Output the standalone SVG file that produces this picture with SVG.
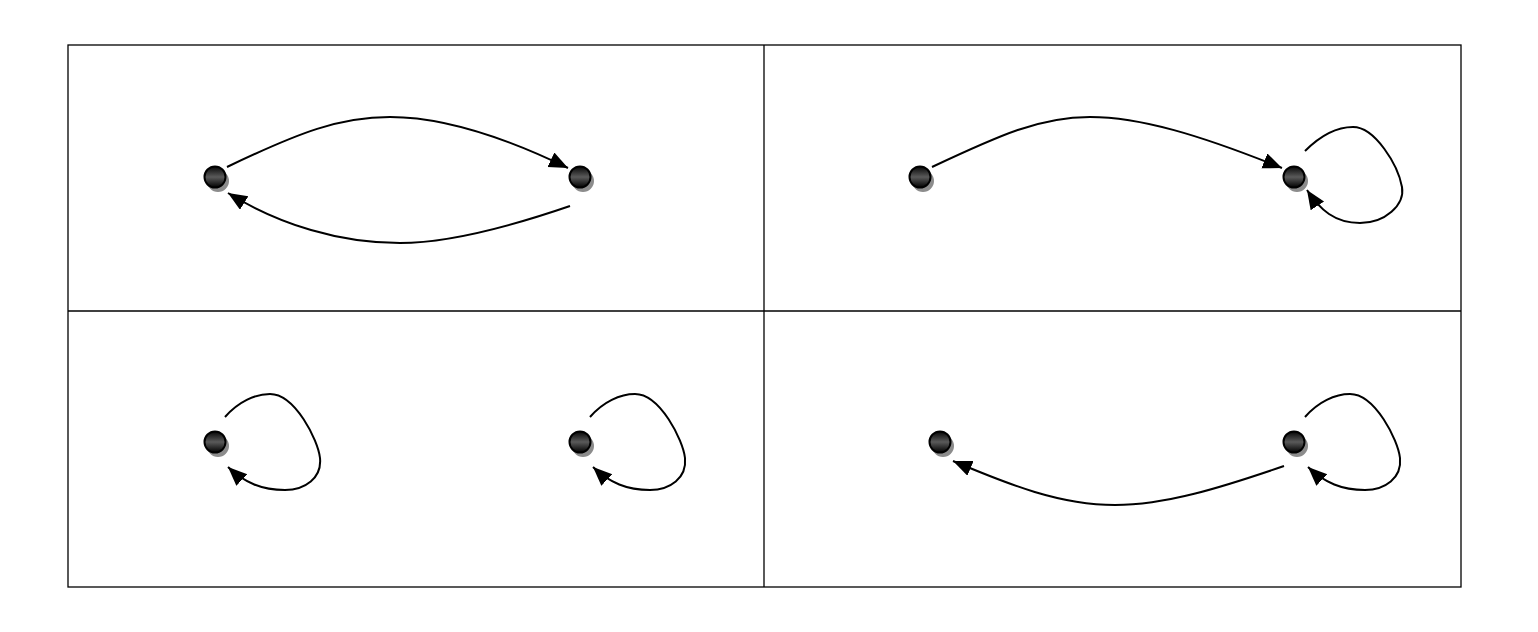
<svg xmlns="http://www.w3.org/2000/svg" width="1538" height="632" viewBox="0 0 1538 632">
<style>
.frame{fill:none;stroke:#000;stroke-width:1.3}
.edge{fill:none;stroke:#000;stroke-width:2}
.shadow{fill:#8c8c8c}
.ball{fill:url(#g);stroke:#000;stroke-width:2}
</style>
<defs>
<linearGradient id="g" x1="0" y1="0" x2="0" y2="1">
<stop offset="0" stop-color="#050505"/>
<stop offset="0.5" stop-color="#5a5a5a"/>
<stop offset="1" stop-color="#000"/>
</linearGradient>
<marker id="ah" markerUnits="userSpaceOnUse" markerWidth="22" markerHeight="18" refX="19" refY="8" orient="auto">
<path d="M0,0 L19,8 L0,16 Z" fill="#000"/>
</marker>
</defs>
<rect x="0" y="0" width="1538" height="632" fill="#fff"/>
<g id="frame">
<rect class="frame" x="68" y="45" width="1393" height="542"/>
<line class="frame" x1="764" y1="45" x2="764" y2="587"/>
<line class="frame" x1="68" y1="311" x2="1461" y2="311"/>
</g>
<g id="connectors">
<path class="edge" marker-end="url(#ah)" d="M227,167 C300,132 340,117 390,117 C440,117 500,135 568,168"/>
<path class="edge" marker-end="url(#ah)" d="M570,206 C500,230 440,243 400,243 C340,243 280,225 228,193"/>
<path class="edge" marker-end="url(#ah)" d="M932,167 C1000,135 1040,117 1090,117 C1140,117 1200,135 1282,168"/>
<path class="edge" marker-end="url(#ah)" d="M1305,151 C1318,138 1335,127 1353,127 C1375,127 1398,165 1402,187 C1405,205 1385,223 1360,223 C1335,223 1320,210 1307,190"/>
<path class="edge" marker-end="url(#ah)" d="M225,417 C238,402 255,394 270,394 C295,394 318,440 320,458 C322,478 305,490 285,490 C262,490 245,483 228,467"/>
<path class="edge" marker-end="url(#ah)" d="M590,417 C603,402 620,394 635,394 C660,394 683,440 685,458 C687,478 670,490 650,490 C627,490 610,483 593,467"/>
<path class="edge" marker-end="url(#ah)" d="M1305,417 C1318,402 1335,394 1350,394 C1375,394 1398,440 1400,458 C1402,478 1385,490 1365,490 C1342,490 1325,483 1308,467"/>
<path class="edge" marker-end="url(#ah)" d="M1284,466 C1220,488 1165,505 1115,505 C1060,505 1010,485 953,461"/>
</g>
<g id="n1"><circle class="shadow" cx="218" cy="181" r="11"/><circle class="ball" cx="215" cy="177" r="10.5"/></g>
<g id="n2"><circle class="shadow" cx="583" cy="181" r="11"/><circle class="ball" cx="580" cy="177" r="10.5"/></g>
<g id="n3"><circle class="shadow" cx="923" cy="181" r="11"/><circle class="ball" cx="920" cy="177" r="10.5"/></g>
<g id="n4"><circle class="shadow" cx="1297" cy="181" r="11"/><circle class="ball" cx="1294" cy="177" r="10.5"/></g>
<g id="n5"><circle class="shadow" cx="218" cy="446" r="11"/><circle class="ball" cx="215" cy="442" r="10.5"/></g>
<g id="n6"><circle class="shadow" cx="583" cy="446" r="11"/><circle class="ball" cx="580" cy="442" r="10.5"/></g>
<g id="n7"><circle class="shadow" cx="943" cy="446" r="11"/><circle class="ball" cx="940" cy="442" r="10.5"/></g>
<g id="n8"><circle class="shadow" cx="1297" cy="446" r="11"/><circle class="ball" cx="1294" cy="442" r="10.5"/></g>
</svg>
